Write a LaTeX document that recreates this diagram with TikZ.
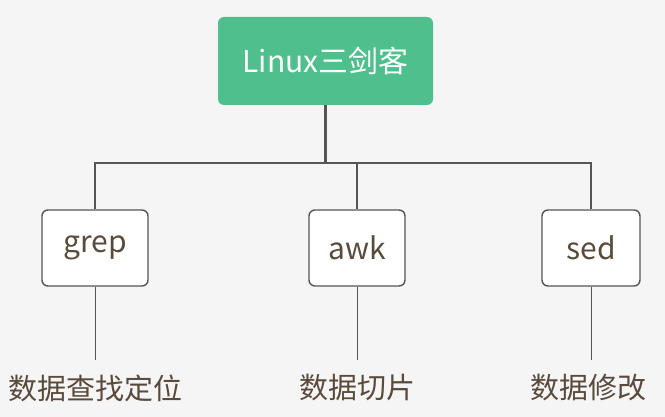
\documentclass[tikz,border=0pt]{standalone}
\usepackage{fontspec}
\setmainfont{Noto Sans CJK SC}
\definecolor{rootg}{HTML}{4FC08D}
\definecolor{edge}{HTML}{555555}
\definecolor{txt}{HTML}{5A4A3C}
\begin{document}
\begin{tikzpicture}[x=1pt,y=-1pt,
  leaf/.style={draw=edge,line width=1.4pt,rounded corners=6pt,fill=white,minimum width=106pt,minimum height=76pt,text=txt,font=\fontsize{30}{34}\selectfont},
  conn/.style={draw=edge,line width=2.5pt},
  thin/.style={draw=edge,line width=0.8pt},
  lab/.style={text=txt,font=\fontsize{29}{33}\selectfont}]
\fill[white!96!black] (0,0) rectangle (665,417);
\node[fill=rootg,rounded corners=6pt,minimum width=215pt,minimum height=88pt,text=white,font=\fontsize{30}{34}\selectfont] (root) at (325.5,61) {Linux三剑客};
\node[leaf] (grep) at (95,248) {grep};
\node[leaf,minimum width=96pt] (awk) at (357,248) {awk};
\node[leaf,minimum width=98pt] (sed) at (591,248) {sed};
\coordinate (j) at (325.5,163);
\draw[conn] (root.south) -- (j);
\draw[conn] (grep.north) |- (j) -| (sed.north);
\draw[conn] (awk.north) -- (awk.north |- j);
\coordinate (g2) at (95,360);
\coordinate (a2) at (357,360);
\coordinate (s2) at (591,360);
\draw[thin] (grep.south) -- (g2);
\draw[thin] (awk.south) -- (a2);
\draw[thin] (sed.south) -- (s2);
\node[lab] (lg) at (96,388) {数据查找定位};
\node[lab] (la) at (357,388) {数据切片};
\node[lab] (ls) at (588,388) {数据修改};
\end{tikzpicture}
\end{document}
